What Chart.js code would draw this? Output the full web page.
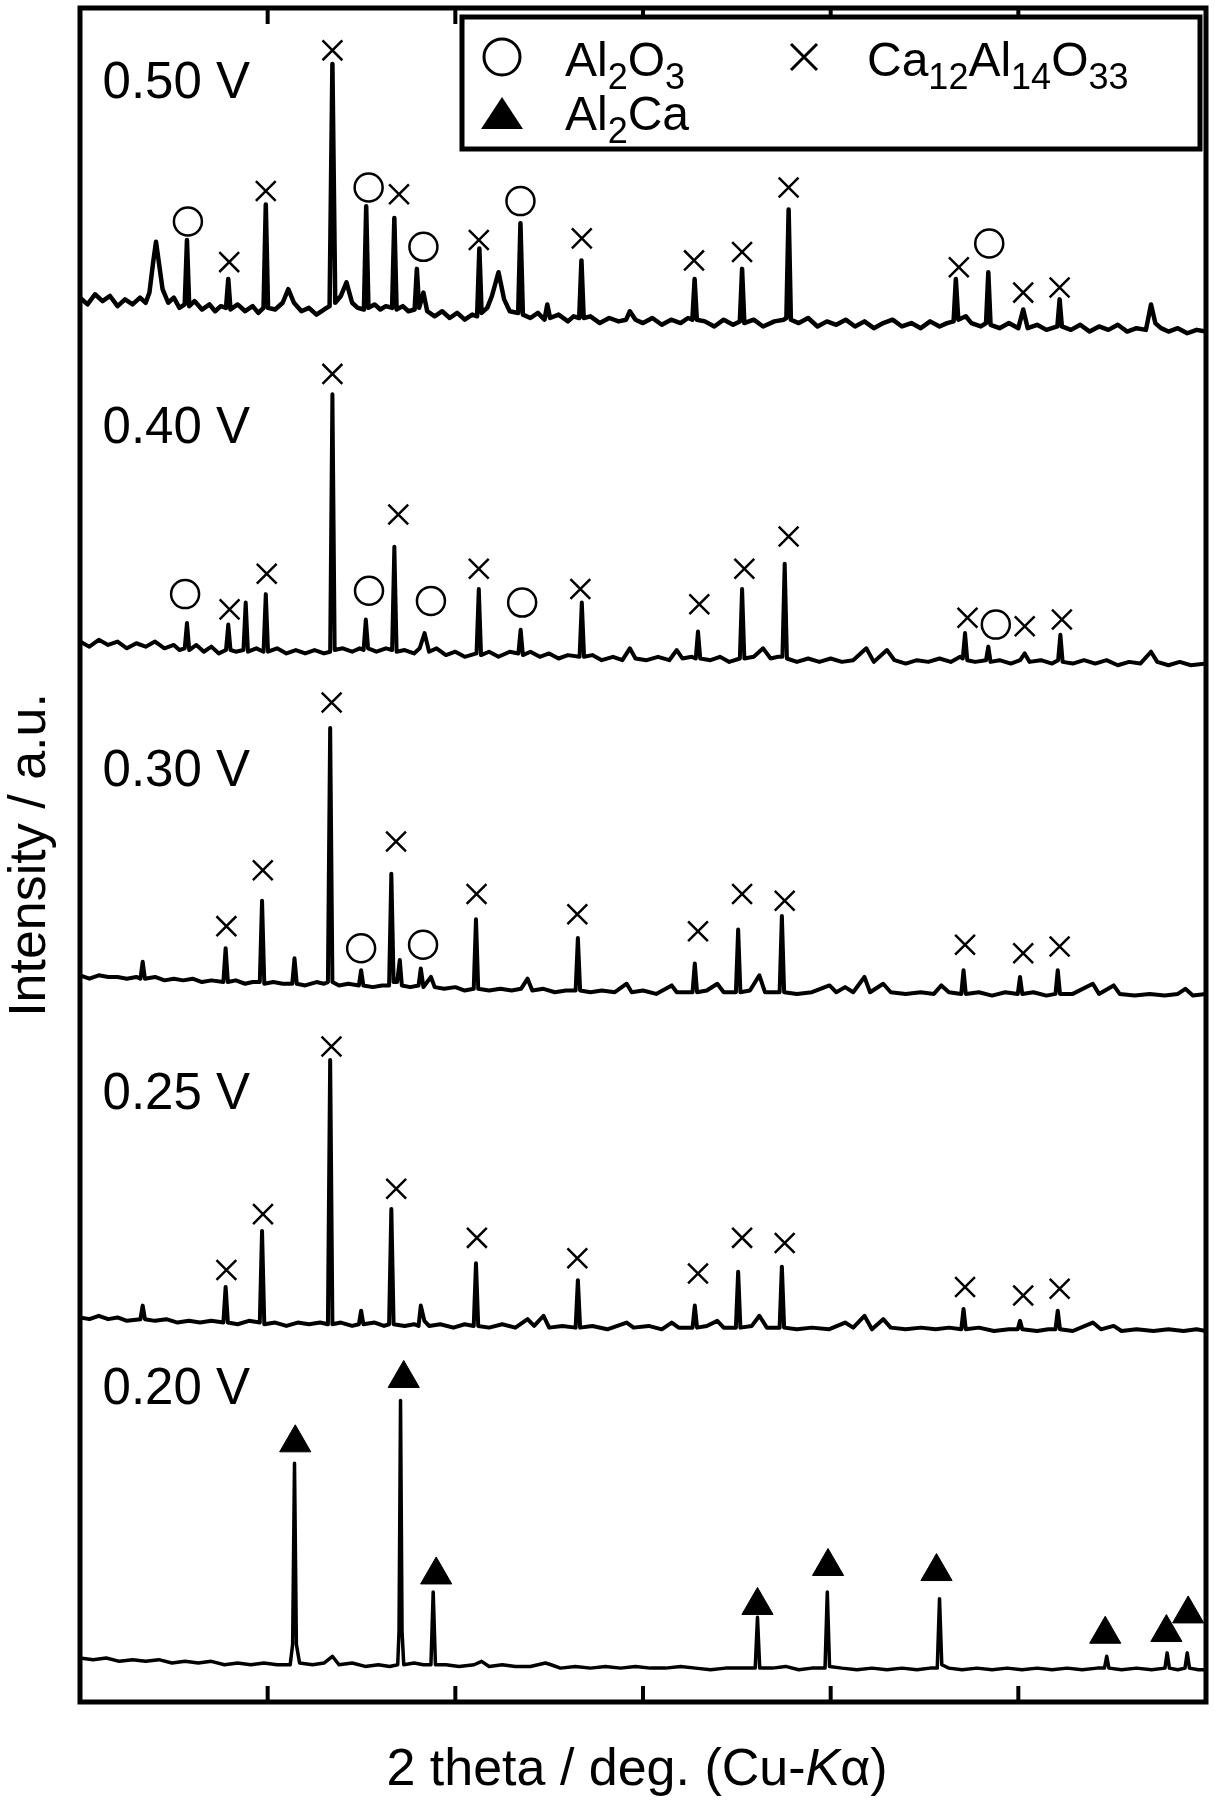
<!DOCTYPE html>
<html>
<head>
<meta charset="utf-8">
<script src="https://cdn.jsdelivr.net/npm/chart.js"></script>
<style>
  body { margin: 0; background: #fff; }
</style>
</head>
<body>
<canvas id="xrd" width="1215" height="1800"></canvas>
<script>
  // potentials, top pattern first
  const potentials = ["0.50 V", "0.40 V", "0.30 V", "0.25 V", "0.20 V"];
  // stacking offset of each pattern (a.u.)
  const offsets = [820, 620, 425, 222, 22];
  // 2 theta ticks (no labels in the figure)
  const xTicks = [20, 30, 40, 50, 60];

  // [2theta, intensity]
  const scan050 = [[10.0, 9], [10.4, 5], [10.8, 11], [11.2, 7], [11.6, 10], [12.0, 4], [12.4, 8], [12.8, 5], [13.2, 9], [13.5, 6], [13.7, 12], [13.9, 30], [14.05, 42], [14.2, 30], [14.4, 14], [14.7, 6], [15.0, 9], [15.3, 3], [15.58, 5], [15.7, 43], [15.82, 4], [16.1, 7], [16.5, 2], [16.9, 5], [17.2, 1], [17.5, 4], [17.78, 3], [17.9, 20], [18.02, 2], [18.4, 5], [18.8, 1], [19.2, 4], [19.5, 0], [19.78, 3], [19.9, 64], [20.02, 3], [20.4, 2], [20.8, 6], [21.1, 14], [21.4, 6], [21.8, 1], [22.2, 3], [22.6, -1], [23.0, 2], [23.3, 4], [23.45, 147], [23.6, 6], [23.9, 10], [24.2, 18], [24.5, 6], [24.8, 3], [25.13, 2], [25.25, 63], [25.37, 3], [25.7, 5], [26.0, 2], [26.3, 4], [26.63, 3], [26.75, 56], [26.87, 2], [27.2, 4], [27.5, 1], [27.83, 2], [27.95, 26], [28.07, 3], [28.3, 12], [28.5, 1], [28.9, -2], [29.3, 1], [29.7, -3], [30.1, 0], [30.5, -4], [30.9, -1], [31.16, -2], [31.28, 38], [31.4, 0], [31.7, 3], [31.95, 10], [32.3, 24], [32.6, 8], [32.9, 1], [33.35, 0], [33.47, 53], [33.6, -1], [34.0, -3], [34.4, 0], [34.75, -4], [34.9, 5], [35.05, -3], [35.5, -1], [36.0, -5], [36.3, -2], [36.6, -3], [36.72, 31], [36.84, -3], [37.2, -2], [37.7, -6], [38.2, -3], [38.7, -5], [39.1, -4], [39.3, 1], [39.6, -4], [40.0, -6], [40.5, -3], [41.0, -7], [41.5, -4], [42.0, -6], [42.4, -3], [42.63, -4], [42.75, 20], [42.87, -4], [43.3, -5], [43.8, -8], [44.3, -4], [44.8, -7], [45.16, -5], [45.28, 26], [45.4, -6], [45.9, -4], [46.4, -8], [47.0, -5], [47.5, -4], [47.64, -3], [47.76, 61], [47.88, -4], [48.3, -6], [48.8, -3], [49.3, -8], [49.8, -5], [50.3, -7], [50.8, -4], [51.3, -8], [51.8, -5], [52.3, -9], [52.8, -6], [53.3, -4], [53.8, -8], [54.3, -6], [54.8, -9], [55.3, -5], [55.8, -8], [56.2, -6], [56.55, -5], [56.67, 20], [56.8, -4], [57.2, -2], [57.5, -6], [58.0, -8], [58.28, -6], [58.4, 24], [58.52, -7], [59.0, -9], [59.5, -6], [60.0, -9], [60.26, 2], [60.5, -9], [61.0, -7], [61.5, -10], [62.08, -8], [62.2, 8], [62.32, -8], [62.8, -10], [63.3, -7], [63.8, -11], [64.3, -8], [64.8, -10], [65.3, -7], [65.8, -11], [66.3, -9], [66.8, -10], [67.07, 5], [67.3, -6], [67.6, -9], [68.0, -11], [68.5, -9], [69.0, -12], [69.5, -10], [70.0, -11]];

  const scan040 = [[10.0, 6], [10.5, 3], [11.0, 7], [11.5, 4], [12.0, 6], [12.5, 2], [13.0, 5], [13.5, 3], [14.0, 6], [14.5, 2], [15.0, 4], [15.3, 1], [15.58, 2], [15.7, 17], [15.82, 1], [16.2, 4], [16.6, 0], [17.0, 3], [17.4, -1], [17.78, 1], [17.9, 16], [18.02, 1], [18.3, 0], [18.71, 1], [18.83, 29], [18.95, 0], [19.4, 2], [19.78, 0], [19.9, 34], [20.02, 0], [20.5, 2], [21.0, -1], [21.5, 1], [22.0, -1], [22.5, 1], [23.0, -1], [23.33, 0], [23.45, 152], [23.57, 1], [24.0, 2], [24.5, 0], [24.9, 2], [25.11, 1], [25.23, 19], [25.35, 2], [25.8, 0], [26.3, 2], [26.63, 1], [26.75, 62], [26.87, 0], [27.3, 1], [27.8, -1], [28.1, 2], [28.36, 11], [28.6, 0], [29.0, 2], [29.5, -2], [30.0, 0], [30.5, -3], [31.13, -1], [31.25, 37], [31.37, -2], [31.8, 0], [32.3, -3], [32.9, 0], [33.36, -1], [33.48, 13], [33.6, -2], [34.0, 0], [34.5, -3], [35.0, -1], [35.5, -4], [36.0, -2], [36.62, -3], [36.74, 29], [36.86, -3], [37.3, -2], [37.8, -5], [38.4, -3], [38.9, -5], [39.3, 2], [39.6, -4], [40.2, -5], [40.8, -3], [41.4, -5], [41.8, 1], [42.1, -4], [42.6, -3], [42.81, -4], [42.93, 12], [43.05, -4], [43.6, -5], [44.1, -3], [44.6, -6], [45.16, -4], [45.28, 37], [45.4, -4], [45.9, -3], [46.4, 2], [46.8, -4], [47.2, -3], [47.43, -3], [47.55, 52], [47.67, -4], [48.2, -6], [48.8, -4], [49.4, -6], [50.0, -4], [50.6, -6], [51.2, -5], [51.9, 2], [52.3, -6], [53.0, 1], [53.4, -5], [54.0, -7], [54.6, -5], [55.2, -6], [55.8, -4], [56.4, -6], [56.9, -3], [57.04, -4], [57.16, 11], [57.28, -5], [57.7, -6], [58.28, -5], [58.4, 3], [58.52, -6], [59.0, -5], [59.6, -7], [60.1, -5], [60.34, -1], [60.6, -6], [61.2, -5], [61.8, -7], [62.12, -5], [62.24, 10], [62.36, -6], [62.9, -7], [63.5, -5], [64.1, -7], [64.7, -5], [65.3, -8], [65.9, -6], [66.5, -7], [67.07, 0], [67.4, -6], [68.0, -8], [68.6, -6], [69.2, -8], [70.0, -7]];

  const scan030 = [[10.0, 4], [10.5, 2], [11.0, 4], [11.5, 3], [12.0, 3], [12.5, 2], [13.0, 3], [13.22, 2], [13.34, 12], [13.46, 2], [14.0, 3], [14.5, 1], [15.0, 2], [15.5, 1], [16.0, 2], [16.5, 0], [17.0, 1], [17.64, 0], [17.76, 20], [17.88, 0], [18.3, 1], [18.8, -1], [19.2, 0], [19.58, 0], [19.7, 48], [19.82, -1], [20.3, 0], [20.8, -1], [21.31, -1], [21.43, 14], [21.55, -1], [22.0, -2], [22.6, 0], [23.0, -1], [23.21, 0], [23.33, 150], [23.45, 0], [23.8, -2], [24.3, -1], [24.86, -2], [24.98, 7], [25.1, -2], [25.6, -3], [26.1, -2], [26.47, -2], [26.59, 64], [26.71, 0], [26.9, 0], [27.04, 13], [27.15, -2], [27.6, -3], [28.04, -2], [28.16, 8], [28.3, -3], [28.7, 3], [28.9, -3], [29.4, -4], [30.0, -3], [30.5, -5], [30.98, -4], [31.1, 37], [31.22, -4], [31.8, -5], [32.4, -4], [33.0, -5], [33.5, -4], [33.85, 2], [34.1, -5], [34.7, -4], [35.3, -6], [35.9, -5], [36.41, -5], [36.53, 26], [36.65, -5], [37.2, -6], [37.8, -5], [38.5, -6], [39.13, -1], [39.4, -6], [40.0, -5], [40.7, -7], [41.53, -2], [41.8, -6], [42.64, -6], [42.76, 11], [42.88, -6], [43.4, -5], [43.96, -1], [44.3, -6], [44.95, -6], [45.07, 31], [45.19, -6], [45.7, -5], [46.2, 4], [46.5, -6], [47.28, -6], [47.4, 39], [47.52, -6], [48.2, -7], [49.0, -6], [49.94, -2], [50.3, -6], [50.77, -3], [51.2, -6], [51.8, 3], [52.1, -6], [52.8, -1], [53.2, -6], [54.0, -7], [54.8, -6], [55.5, -7], [55.9, -2], [56.3, -6], [56.96, -7], [57.08, 7], [57.2, -7], [57.9, -6], [58.6, -8], [59.3, -6], [59.97, -7], [60.09, 3], [60.21, -7], [60.8, -6], [61.5, -8], [61.98, -7], [62.1, 7], [62.22, -7], [62.9, -7], [63.97, -1], [64.3, -7], [65.08, -2], [65.4, -7], [66.2, -8], [67.0, -7], [67.8, -8], [68.5, -7], [68.9, -4], [69.3, -8], [70.0, -7]];

  const scan025 = [[10.0, 5], [10.5, 4], [11.0, 6], [11.5, 4], [12.0, 5], [12.5, 3], [13.22, 4], [13.34, 12], [13.46, 4], [14.0, 3], [14.6, 4], [15.2, 2], [15.8, 3], [16.4, 2], [17.0, 3], [17.64, 2], [17.76, 23], [17.88, 2], [18.4, 1], [19.0, 3], [19.58, 2], [19.7, 56], [19.82, 1], [20.4, 2], [21.0, 0], [21.6, 2], [22.2, 1], [22.8, 2], [23.21, 1], [23.33, 157], [23.45, 1], [23.9, 2], [24.5, 0], [24.86, 1], [24.98, 9], [25.1, 1], [25.7, 2], [26.2, 0], [26.47, 1], [26.59, 69], [26.71, 1], [27.3, 0], [27.8, 1], [28.04, 0], [28.16, 12], [28.35, 3], [28.6, 0], [29.2, 1], [29.9, -1], [30.5, 1], [30.98, 0], [31.1, 37], [31.22, 0], [31.8, -1], [32.5, 1], [33.2, -1], [33.85, 4], [34.2, 0], [34.7, 6], [35.0, -1], [35.7, 0], [36.41, -1], [36.53, 27], [36.65, -1], [37.3, 0], [38.1, -2], [39.13, 2], [39.5, -1], [40.3, 0], [41.0, -2], [41.53, 2], [41.9, -1], [42.64, -1], [42.76, 12], [42.88, -1], [43.4, 0], [43.96, 3], [44.3, -1], [44.95, -1], [45.07, 32], [45.19, -1], [45.8, 0], [46.2, 6], [46.6, -1], [47.28, -1], [47.4, 35], [47.52, -1], [48.2, -2], [49.0, -1], [49.9, -2], [50.77, 2], [51.2, -1], [51.8, 6], [52.2, -2], [52.8, 4], [53.2, -1], [54.0, -2], [54.8, -1], [55.6, -2], [56.3, -1], [56.96, -2], [57.08, 10], [57.2, -2], [57.9, -1], [58.7, -3], [59.5, -2], [59.97, -2], [60.09, 3], [60.21, -2], [61.0, -3], [61.6, -2], [61.98, -2], [62.1, 9], [62.22, -2], [62.9, -3], [63.97, 2], [64.4, -2], [65.08, 0], [65.5, -3], [66.3, -2], [67.2, -3], [68.0, -2], [68.8, -3], [69.5, -2], [70.0, -3]];

  const scan020 = [[10.0, 4], [10.7, 3], [11.4, 4], [12.1, 2], [12.8, 3], [13.5, 2], [14.2, 3], [14.9, 1], [15.6, 2], [16.3, 1], [17.0, 2], [17.7, 0], [18.4, 1], [19.1, 0], [19.8, 1], [20.5, 0], [21.2, 0], [21.33, 12], [21.43, 119], [21.53, 12], [21.7, 1], [22.4, 0], [23.0, 1], [23.45, 5], [23.8, 0], [24.5, 1], [25.2, -1], [25.9, 0], [26.5, -1], [26.93, 0], [27.0, 20], [27.08, 156], [27.16, 20], [27.25, 0], [27.8, 1], [28.3, 0], [28.7, 0], [28.82, 43], [28.94, 0], [29.5, 0], [30.2, -1], [31.0, 0], [31.4, 2], [31.8, -1], [32.5, 0], [33.2, -1], [34.0, -1], [34.8, 1], [35.1, 0], [35.6, -2], [36.4, -1], [37.2, -2], [38.0, -1], [38.8, -2], [39.6, -1], [40.4, -2], [41.2, -2], [42.0, -1], [42.8, -2], [43.6, -3], [44.4, -2], [45.2, -2], [45.98, -2], [46.1, 28], [46.22, -2], [46.9, -2], [47.6, -1], [48.3, -3], [49.0, -2], [49.7, -2], [49.82, 43], [49.94, -1], [50.6, -2], [51.4, -3], [52.2, -2], [53.0, -3], [53.8, -2], [54.6, -3], [55.3, -2], [55.68, -2], [55.8, 39], [55.92, 0], [56.3, -2], [57.0, -3], [57.8, -2], [58.6, -3], [59.4, -2], [60.2, -3], [61.0, -2], [61.8, -3], [62.6, -2], [63.4, -3], [64.2, -2], [64.59, -2], [64.71, 5], [64.83, -2], [65.5, -3], [66.3, -2], [67.1, -3], [67.81, -2], [67.93, 7], [68.05, -2], [68.5, -3], [68.88, -2], [69.0, 7], [69.12, -2], [69.6, -3], [70.0, -3]];

  // phase markers [2theta, height above the pattern]
  const al2o3Marks050 = [[15.75, 54], [25.38, 74], [28.3, 39], [33.47, 66], [58.45, 41]];
  const al2o3Marks040 = [[15.6, 34], [25.4, 36], [28.7, 30], [33.56, 29], [58.8, 16]];
  const al2o3Marks030 = [[24.98, 20], [28.28, 22]];
  const mayeniteMarks050 = [[17.95, 30], [19.9, 72], [23.45, 155], [27.0, 70], [31.25, 43], [36.74, 44], [42.72, 31], [45.28, 36], [47.76, 74], [56.83, 27], [60.26, 12], [62.2, 15]];
  const mayeniteMarks040 = [[17.97, 25], [19.95, 46], [23.45, 164], [26.96, 81], [31.25, 49], [36.66, 37], [43.0, 28], [45.4, 49], [47.76, 68], [57.29, 20], [60.34, 15], [62.32, 19]];
  const mayeniteMarks030 = [[17.8, 33], [19.74, 66], [23.41, 165], [26.84, 83], [31.13, 52], [36.5, 40], [42.93, 30], [45.28, 52], [47.55, 48], [57.16, 22], [60.26, 17], [62.2, 21]];
  const mayeniteMarks025 = [[17.8, 33], [19.75, 66], [23.4, 165], [26.85, 81], [31.15, 52], [36.5, 40], [42.93, 31], [45.28, 52], [47.55, 49], [57.16, 23], [60.26, 18], [62.2, 22]];
  const al2caMarks020 = [[21.47, 131], [27.25, 169], [28.98, 53], [46.1, 35], [49.86, 58], [55.64, 55], [64.63, 18], [67.89, 19], [69.05, 30]];

  const scans = [scan050, scan040, scan030, scan025, scan020];
  const lineWidths = [4.5, 4, 4, 4, 3.5];

  function stack(points, i) {
    return points.map(p => ({ x: p[0], y: p[1] + offsets[i] }));
  }

  const datasets = scans.map((s, i) => ({
    label: potentials[i],
    data: stack(s, i),
    showLine: true,
    borderColor: "#000",
    borderWidth: lineWidths[i],
    borderJoinStyle: "round",
    pointRadius: 0,
    tension: 0,
  }));

  datasets.push({
    label: "Al2O3",
    data: [].concat(stack(al2o3Marks050, 0), stack(al2o3Marks040, 1), stack(al2o3Marks030, 2)),
    pointStyle: "circle",
    pointRadius: 14,
    borderWidth: 2.5,
    borderColor: "#000",
    backgroundColor: "rgba(0,0,0,0)",
    clip: false,
  });
  datasets.push({
    label: "Ca12Al14O33",
    data: [].concat(stack(mayeniteMarks050, 0), stack(mayeniteMarks040, 1), stack(mayeniteMarks030, 2), stack(mayeniteMarks025, 3)),
    pointStyle: "crossRot",
    pointRadius: 14,
    borderWidth: 2.5,
    borderColor: "#000",
    clip: false,
  });
  datasets.push({
    label: "Al2Ca",
    data: stack(al2caMarks020, 4),
    pointStyle: "triangle",
    pointRadius: 18,
    borderWidth: 1,
    borderColor: "#000",
    backgroundColor: "#000",
    clip: false,
  });

  const FONT = '"Liberation Sans", Arial, sans-serif';

  // text made of runs (for subscripts / italics)
  function drawRuns(ctx, runs, x, y, align) {
    let w = 0;
    runs.forEach(r => { ctx.font = r.font; w += ctx.measureText(r.text).width; });
    let cx = align === "center" ? x - w / 2 : x;
    runs.forEach(r => {
      ctx.font = r.font;
      ctx.fillText(r.text, cx, y + (r.dy || 0));
      cx += ctx.measureText(r.text).width;
    });
  }

  const decor = {
    id: "decor",
    afterDatasetsDraw(chart) {
      const { ctx, chartArea: a, scales } = chart;
      const xs = scales.x, ys = scales.y;
      ctx.save();
      ctx.fillStyle = "#000";
      ctx.strokeStyle = "#000";

      // inner ticks top and bottom
      ctx.lineWidth = 4;
      xTicks.forEach(t => {
        const px = xs.getPixelForValue(t);
        ctx.beginPath();
        ctx.moveTo(px, a.bottom); ctx.lineTo(px, a.bottom - 16);
        ctx.moveTo(px, a.top); ctx.lineTo(px, a.top + 16);
        ctx.stroke();
      });

      // frame
      ctx.lineWidth = 5;
      ctx.strokeRect(a.left, a.top, a.right - a.left, a.bottom - a.top);

      // potential labels
      const labelY = [127, 123, 116, 128, 154];
      ctx.font = "51px " + FONT;
      ctx.textAlign = "left";
      ctx.textBaseline = "alphabetic";
      potentials.forEach((p, i) => {
        ctx.fillText(p, xs.getPixelForValue(11.2), ys.getPixelForValue(offsets[i] + labelY[i]));
      });

      // legend box
      ctx.fillStyle = "#fff";
      ctx.fillRect(462, 17, 738, 132);
      ctx.fillStyle = "#000";
      ctx.lineWidth = 5;
      ctx.strokeRect(462, 17, 738, 132);

      ctx.lineWidth = 3;
      ctx.beginPath();
      ctx.arc(502, 57, 18, 0, Math.PI * 2);
      ctx.stroke();
      ctx.beginPath();
      ctx.moveTo(791, 44); ctx.lineTo(817, 70);
      ctx.moveTo(817, 44); ctx.lineTo(791, 70);
      ctx.stroke();
      ctx.beginPath();
      ctx.moveTo(502, 97); ctx.lineTo(523, 129); ctx.lineTo(481, 129);
      ctx.closePath();
      ctx.fill();

      const big = "48px " + FONT, sub = "36px " + FONT;
      drawRuns(ctx, [{ text: "Al", font: big }, { text: "2", font: sub, dy: 13 }, { text: "O", font: big }, { text: "3", font: sub, dy: 13 }], 565, 76, "left");
      drawRuns(ctx, [{ text: "Ca", font: big }, { text: "12", font: sub, dy: 13 }, { text: "Al", font: big }, { text: "14", font: sub, dy: 13 }, { text: "O", font: big }, { text: "33", font: sub, dy: 13 }], 867, 76, "left");
      drawRuns(ctx, [{ text: "Al", font: big }, { text: "2", font: sub, dy: 13 }, { text: "Ca", font: big }], 565, 130, "left");

      // axis titles
      const tf = "52px " + FONT;
      drawRuns(ctx, [{ text: "2 theta / deg. (Cu-", font: tf }, { text: "K", font: "italic " + tf }, { text: "α)", font: tf }], (a.left + a.right) / 2 - 6, 1785, "center");

      ctx.translate(45, (a.top + a.bottom) / 2);
      ctx.rotate(-Math.PI / 2);
      ctx.font = tf;
      ctx.textAlign = "center";
      ctx.fillText("Intensity / a.u.", 0, 0);
      ctx.restore();
    },
  };

  new Chart(document.getElementById("xrd"), {
    type: "scatter",
    data: { datasets: datasets },
    options: {
      responsive: false,
      animation: false,
      devicePixelRatio: 1,
      layout: { autoPadding: false, padding: { left: 80, right: 9, top: 8, bottom: 98 } },
      scales: {
        x: { type: "linear", min: 10, max: 70, display: false },
        y: { min: 0, max: 1000, display: false },
      },
      plugins: {
        legend: { display: false },
        tooltip: { enabled: false },
      },
    },
    plugins: [decor],
  });
</script>
</body>
</html>
